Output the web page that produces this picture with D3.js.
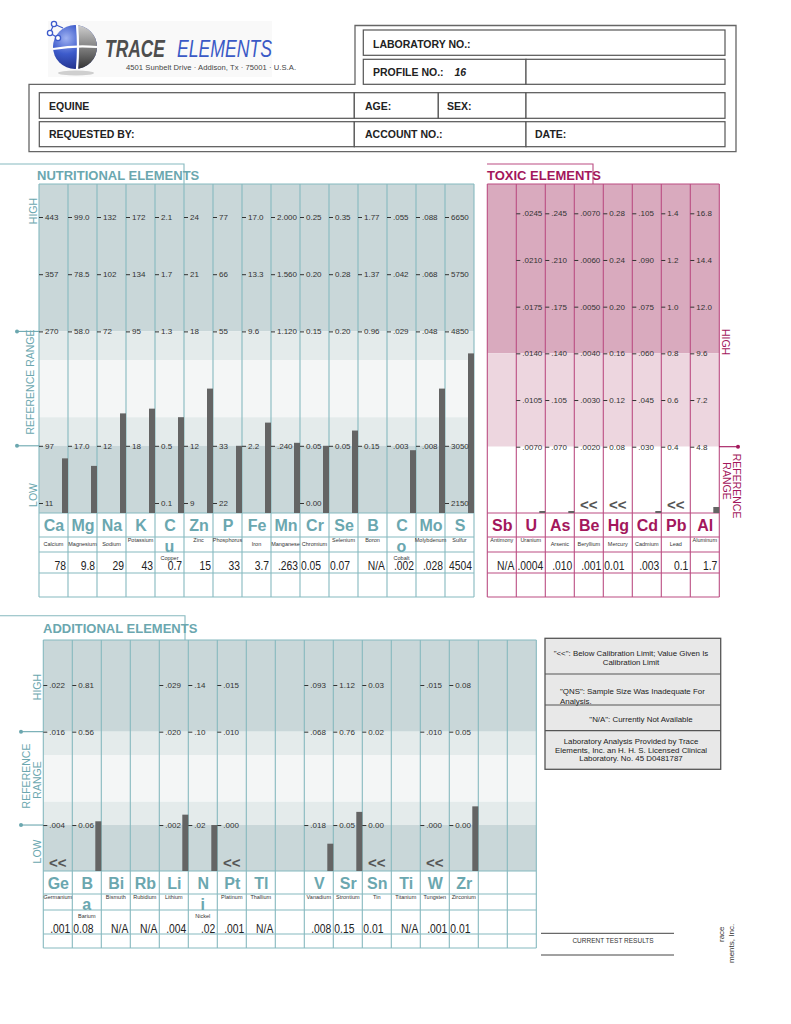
<!DOCTYPE html>
<html>
<head>
<meta charset="utf-8">
<script src="https://cdn.jsdelivr.net/npm/d3@7"></script>
<style>
body{margin:0;background:#fff;}
svg{display:block;font-family:"Liberation Sans",Arial,sans-serif;}
</style>
</head>
<body>
<svg id="chart" width="791" height="1024"></svg>
<script>
// ---- nutritional elements
var nutSymbols = ["Ca","Mg","Na","K","Cu","Zn","P","Fe","Mn","Cr","Se","B","Co","Mo","S"];
var nutNames = ["Calcium","Magnesium","Sodium","Potassium","Copper","Zinc","Phosphorus","Iron","Manganese","Chromium","Selenium","Boron","Cobalt","Molybdenum","Sulfur"];
var nutResults = ["78","9.8","29","43","0.7","15","33","3.7",".263","0.05","0.07","N/A",".002",".028","4504"];
var nutFlags = ["","","","","","","","","","","","","","",""];
var nutHigh = ["443","99.0","132","172","2.1","24","77","17.0","2.000","0.25","0.35","1.77",".055",".088","6650"];
var nutUpper = ["357","78.5","102","134","1.7","21","66","13.3","1.560","0.20","0.28","1.37",".042",".068","5750"];
var nutRefHigh = ["270","58.0","72","95","1.3","18","55","9.6","1.120","0.15","0.20","0.96",".029",".048","4850"];
var nutRefLow = ["97","17.0","12","18","0.5","12","33","2.2",".240","0.05","0.05","0.15",".003",".008","3050"];
var nutLow = ["11","","","","0.1","9","22","","","0.00","","","","","2150"];

// ---- toxic elements
var toxSymbols = ["Sb","U","As","Be","Hg","Cd","Pb","Al"];
var toxNames = ["Antimony","Uranium","Arsenic","Beryllium","Mercury","Cadmium","Lead","Aluminum"];
var toxResults = ["N/A",".0004",".010",".001","0.01",".003","0.1","1.7"];
var toxFlags = ["","","","<<","<<","","<<",""];
var toxRow0 = ["",".0245",".245",".0070","0.28",".105","1.4","16.8"];
var toxRow1 = ["",".0210",".210",".0060","0.24",".090","1.2","14.4"];
var toxRow2 = ["",".0175",".175",".0050","0.20",".075","1.0","12.0"];
var toxRow3 = ["",".0140",".140",".0040","0.16",".060","0.8","9.6"];
var toxRow4 = ["",".0105",".105",".0030","0.12",".045","0.6","7.2"];
var toxRow5 = ["",".0070",".070",".0020","0.08",".030","0.4","4.8"];

// ---- additional elements
var addSymbols = ["Ge","Ba","Bi","Rb","Li","Ni","Pt","Tl","","V","Sr","Sn","Ti","W","Zr","",""];
var addNames = ["Germanium","Barium","Bismuth","Rubidium","Lithium","Nickel","Platinum","Thallium","","Vanadium","Strontium","Tin","Titanium","Tungsten","Zirconium","",""];
var addResults = [".001","0.08","N/A","N/A",".004",".02",".001","N/A","",".008","0.15","0.01","N/A",".001","0.01","",""];
var addFlags = ["<<","","","","","","<<","","","","","<<","","<<","","",""];
var addHigh = [".022","0.81","","",".029",".14",".015","","",".093","1.12","0.03","",".015","0.08","",""];
var addRefHigh = [".016","0.56","","",".020",".10",".010","","",".068","0.76","0.02","",".010","0.05","",""];
var addRefLow = [".004","0.06","","",".002",".02",".000","","",".018","0.05","0.00","",".000","0.00","",""];

var svg = d3.select("#chart");
var TEAL = "#6ba7af", TEAL_LINE = "#86b9bf";
var PINK = "#a3175c", PINK_LINE = "#bb4d82";
var BAR = "#646464";

// symbols too wide for the cell wrap onto a second line, as on the form
var wrapped = ["Cu","Co","Ba","Ni"];
var raised = ["K","Zn","P","Se","B","Mo","S","Sb","U","Al"];

// squeeze a text horizontally (the form uses a narrow face)
function narrow(sel, k) {
  sel.each(function() {
    var w = this.getComputedTextLength();
    if (w > 0) d3.select(this).attr("textLength", w * k).attr("lengthAdjust", "spacingAndGlyphs");
  });
}

function drawPanel(p) {
  var g = svg.append("g");
  var n = p.symbols.length;
  var x = d3.scaleBand().domain(d3.range(n)).range([p.x0, p.x0 + n * p.colW]);
  var left = p.x0, right = p.x0 + n * p.colW;

  // background bands
  g.selectAll("rect.band").data(p.bands).join("rect")
    .attr("x", left).attr("width", right - left)
    .attr("y", function(d) { return d[0]; })
    .attr("height", function(d) { return d[1] - d[0]; })
    .attr("fill", function(d) { return d[2]; });

  // grid
  g.selectAll("line.v").data(d3.range(n + 1)).join("line")
    .attr("x1", function(i) { return p.x0 + i * p.colW; })
    .attr("x2", function(i) { return p.x0 + i * p.colW; })
    .attr("y1", p.top).attr("y2", p.rows[p.rows.length - 1])
    .attr("stroke", p.lineColor).attr("stroke-width", 1.1);
  g.selectAll("line.h").data([p.top].concat(p.rows)).join("line")
    .attr("x1", left).attr("x2", right)
    .attr("y1", function(d) { return d; }).attr("y2", function(d) { return d; })
    .attr("stroke", p.lineColor).attr("stroke-width", 1.1);

  // bars
  var bars = d3.range(n).filter(function(i) {
    return p.results[i] !== "" && !isNaN(+p.results[i]) && p.flags[i] !== "<<" && p.scale(i);
  });
  function barTop(i) {
    var y = p.scale(i)(+p.results[i]);
    return Math.max(p.top, Math.min(p.bottom - 2, y));
  }
  g.selectAll("rect.bar").data(bars).join("rect")
    .attr("fill", BAR)
    .attr("x", function(i) { return x(i) + p.colW - 6; })
    .attr("width", 6)
    .attr("y", barTop)
    .attr("height", function(i) { return p.bottom - barTop(i); });

  // tick labels per column
  d3.range(n).forEach(function(i) {
    var rows = p.ticks.filter(function(t) { return t.labels[i] !== ""; });
    if (!rows.length) return;
    var lookup = {};
    rows.forEach(function(t) { lookup[t.row] = t.labels[i]; });
    var ax = g.append("g")
      .attr("transform", "translate(" + x(i) + ",0)")
      .call(d3.axisRight(p.rowY)
        .tickValues(rows.map(function(t) { return t.row; }))
        .tickFormat(function(r) { return lookup[r]; })
        .tickSizeInner(4).tickSizeOuter(0).tickPadding(2));
    ax.select(".domain").remove();
    ax.selectAll("line").attr("stroke", "#333");
    ax.selectAll("text").attr("fill", "#333").attr("font-size", "8px")
      .attr("font-family", "Liberation Sans, Arial, sans-serif");
  });

  // calibration flags
  g.selectAll("text.flag").data(d3.range(n).filter(function(i) { return p.flags[i] !== ""; })).join("text")
    .attr("x", function(i) { return x(i) + p.colW / 2; })
    .attr("y", p.bottom - 3)
    .attr("text-anchor", "middle").attr("font-size", "15px").attr("font-weight", "bold")
    .attr("fill", "#555").text(function(i) { return p.flags[i]; });

  // symbols
  g.selectAll("text.sym").data(d3.range(n)).join("text")
    .attr("x", function(i) { return x(i) + p.colW / 2 + 0.5; })
    .attr("y", p.symY)
    .attr("text-anchor", "middle").attr("font-size", "16px").attr("font-weight", "bold")
    .attr("fill", p.textColor)
    .text(function(i) { var s = p.symbols[i]; return wrapped.indexOf(s) >= 0 ? s[0] : s; });
  g.selectAll("text.sym2").data(d3.range(n).filter(function(i) { return wrapped.indexOf(p.symbols[i]) >= 0; })).join("text")
    .attr("x", function(i) { return x(i) + p.colW / 2; })
    .attr("y", p.symY + 21)
    .attr("text-anchor", "middle").attr("font-size", "16px").attr("font-weight", "bold")
    .attr("fill", p.textColor)
    .text(function(i) { return p.symbols[i].slice(1); });

  // names
  g.selectAll("text.name").data(d3.range(n)).join("text")
    .attr("x", function(i) { return x(i) + p.colW / 2; })
    .attr("y", function(i) {
      var s = p.symbols[i];
      if (wrapped.indexOf(s) >= 0) return p.symY + 29;
      return raised.indexOf(s) >= 0 ? p.nameY - 4 : p.nameY;
    })
    .attr("text-anchor", "middle").attr("font-size", "5.5px").attr("fill", "#333")
    .text(function(i) { return p.names[i]; });

  // results
  g.selectAll("text.res").data(d3.range(n)).join("text")
    .attr("x", function(i) {
      return /^0\.\d\d$/.test(p.results[i]) ? x(i) + 1 : x(i) + p.colW - 2;
    })
    .attr("y", p.resY)
    .attr("text-anchor", function(i) { return /^0\.\d\d$/.test(p.results[i]) ? "start" : "end"; })
    .attr("font-size", "12px").attr("fill", "#222")
    .text(function(i) { return p.results[i]; })
    .call(narrow, 0.86);
}

function num(s) { return s === "" ? null : +s; }

// ---- nutritional panel
var nutRowY = d3.scaleLinear().domain([0, 5]).range([217, 503]);
var nStep = nutRowY(1) - nutRowY(0);
drawPanel({
  x0: 39, colW: 29, top: 184, bottom: 513,
  rows: [513, 537, 552, 573, 597],
  symbols: nutSymbols, names: nutNames, results: nutResults, flags: nutFlags,
  rowY: nutRowY,
  ticks: [{row: 0, labels: nutHigh}, {row: 1, labels: nutUpper}, {row: 2, labels: nutRefHigh},
          {row: 4, labels: nutRefLow}, {row: 5, labels: nutLow}],
  scale: function(i) {
    return d3.scaleLinear().domain([num(nutRefLow[i]), num(nutRefHigh[i])]).range([nutRowY(4), nutRowY(2)]);
  },
  bands: [[184, nutRowY(2), "#c9d7d9"], [nutRowY(2), nutRowY(2) + nStep / 2, "#e4ebeb"],
          [nutRowY(2) + nStep / 2, nutRowY(4) - nStep / 2, "#f4f6f6"],
          [nutRowY(4) - nStep / 2, nutRowY(4), "#e4ebeb"], [nutRowY(4), 513, "#c9d7d9"]],
  lineColor: TEAL_LINE, textColor: TEAL,
  symY: 531, nameY: 546, resY: 570
});

// ---- toxic panel
var toxRowY = d3.scaleLinear().domain([0, 5]).range([213.3, 446.7]);
drawPanel({
  x0: 487.3, colW: 29, top: 184, bottom: 513,
  rows: [513, 537, 552, 573, 597],
  symbols: toxSymbols, names: toxNames, results: toxResults, flags: toxFlags,
  rowY: toxRowY,
  ticks: [{row: 0, labels: toxRow0}, {row: 1, labels: toxRow1}, {row: 2, labels: toxRow2},
          {row: 3, labels: toxRow3}, {row: 4, labels: toxRow4}, {row: 5, labels: toxRow5}],
  scale: function(i) {
    if (toxRow0[i] === "") return null;
    return d3.scaleLinear().domain([num(toxRow5[i]), num(toxRow0[i])]).range([toxRowY(5), toxRowY(0)]);
  },
  bands: [[184, toxRowY(3), "#d9aabe"], [toxRowY(3), toxRowY(5), "#edd6df"], [toxRowY(5), 513, "#ffffff"]],
  lineColor: PINK_LINE, textColor: PINK,
  symY: 531, nameY: 546, resY: 570
});

// ---- additional panel
var addRowY = d3.scaleLinear().domain([0, 4]).range([685, 871.7]);
drawPanel({
  x0: 43.3, colW: 29, top: 640, bottom: 871,
  rows: [871, 894, 910, 934, 948],
  symbols: addSymbols, names: addNames, results: addResults, flags: addFlags,
  rowY: addRowY,
  ticks: [{row: 0, labels: addHigh}, {row: 1, labels: addRefHigh}, {row: 3, labels: addRefLow}],
  scale: function(i) {
    if (addRefHigh[i] === "") return null;
    return d3.scaleLinear().domain([num(addRefLow[i]), num(addRefHigh[i])]).range([addRowY(3), addRowY(1)]);
  },
  bands: [[640, addRowY(1), "#c9d7d9"], [addRowY(1), addRowY(1.5), "#e4ebeb"],
          [addRowY(1.5), addRowY(2.5), "#f4f6f6"], [addRowY(2.5), addRowY(3), "#e4ebeb"],
          [addRowY(3), 871, "#c9d7d9"]],
  lineColor: TEAL_LINE, textColor: TEAL,
  symY: 889, nameY: 899, resY: 932.5
});

// ---- section titles and brackets
function bracket(x1, x2, y, yEnd, color) {
  svg.append("path")
    .attr("d", "M" + x1 + "," + y + "H" + x2 + "V" + yEnd)
    .attr("fill", "none").attr("stroke", color).attr("stroke-width", 1.1);
}
bracket(0, 184, 164, 184, TEAL_LINE);
bracket(487, 593, 164, 184, PINK_LINE);
bracket(0, 185, 615.7, 640, TEAL_LINE);

function title(x, y, t, color) {
  svg.append("text").attr("x", x).attr("y", y).attr("font-size", "13px").attr("font-weight", "bold")
    .attr("fill", color).text(t);
}
title(37, 180, "NUTRITIONAL ELEMENTS", TEAL);
title(487, 180, "TOXIC ELEMENTS", PINK);
title(43, 633, "ADDITIONAL ELEMENTS", TEAL);

function vlabel(cx, cy, t, color, angle) {
  svg.append("text").attr("transform", "translate(" + cx + "," + cy + ") rotate(" + angle + ")")
    .attr("text-anchor", "middle").attr("dy", "0.35em").attr("font-size", "10.5px")
    .attr("fill", color).text(t);
}
function marker(x1, x2, y, dotX, color) {
  svg.append("line").attr("x1", x1).attr("x2", x2).attr("y1", y).attr("y2", y)
    .attr("stroke", color).attr("stroke-width", 1.1);
  svg.append("circle").attr("cx", dotX).attr("cy", y).attr("r", 2).attr("fill", color);
}

vlabel(33.5, 211, "HIGH", TEAL, -90);
vlabel(30, 382, "REFERENCE RANGE", TEAL, -90);
vlabel(33.5, 495, "LOW", TEAL, -90);
marker(17, 39, nutRowY(2), 17, TEAL);
marker(17, 39, nutRowY(4), 17, TEAL);

vlabel(37.5, 687, "HIGH", TEAL, -90);
vlabel(26.5, 776, "REFERENCE", TEAL, -90);
vlabel(37.5, 780, "RANGE", TEAL, -90);
vlabel(37.5, 851.5, "LOW", TEAL, -90);
marker(21, 43, addRowY(1), 21, TEAL);
marker(21, 43, addRowY(3), 21, TEAL);

vlabel(726, 342, "HIGH", PINK, 90);
vlabel(737, 486, "REFERENCE", PINK, 90);
vlabel(726.5, 481, "RANGE", PINK, 90);
marker(719, 738, toxRowY(5), 738, PINK);

// ---- header
var defs = svg.append("defs");
var rg = defs.append("radialGradient").attr("id", "sph").attr("cx", "30%").attr("cy", "30%").attr("r", "80%");
rg.append("stop").attr("offset", "0%").attr("stop-color", "#9fb2f2");
rg.append("stop").attr("offset", "45%").attr("stop-color", "#3d5bcb");
rg.append("stop").attr("offset", "100%").attr("stop-color", "#1c2a80");
var lg = defs.append("linearGradient").attr("id", "sphR").attr("x1", "0").attr("y1", "0").attr("x2", "0").attr("y2", "1");
lg.append("stop").attr("offset", "0%").attr("stop-color", "#e0e0e0");
lg.append("stop").attr("offset", "45%").attr("stop-color", "#8a8a8a");
lg.append("stop").attr("offset", "100%").attr("stop-color", "#1e1e1e");
defs.append("clipPath").attr("id", "sphClip").append("circle").attr("cx", 75).attr("cy", 47).attr("r", 22);

svg.append("rect").attr("x", 48).attr("y", 21).attr("width", 224).attr("height", 56).attr("fill", "#f9f9f9");
svg.append("ellipse").attr("cx", 76).attr("cy", 73).attr("rx", 18).attr("ry", 2.5).attr("fill", "#cfcfcf");
var logo = svg.append("g");
logo.append("circle").attr("cx", 75).attr("cy", 47).attr("r", 22).attr("fill", "url(#sph)");
logo.append("path").attr("clip-path", "url(#sphClip)")
  .attr("d", "M78,20 L100,20 L100,75 L78,75 Q79,60 78,48 Z").attr("fill", "url(#sphR)");
logo.append("path").attr("d", "M77,25 Q79,47 77,69").attr("stroke", "#fff").attr("stroke-width", 2.2).attr("fill", "none");
logo.append("path").attr("d", "M53,49 Q75,45 97,47").attr("stroke", "#fff").attr("stroke-width", 2.2).attr("fill", "none");
logo.append("path").attr("d", "M54,24 L50,33 L58,38 M54,24 L63,28").attr("stroke", "#3d5bcb").attr("stroke-width", 1.2).attr("fill", "none");
[[54, 24], [50, 33], [58, 38]].forEach(function(c) {
  logo.append("circle").attr("cx", c[0]).attr("cy", c[1]).attr("r", 2.6).attr("fill", "#fff")
    .attr("stroke", "#3d5bcb").attr("stroke-width", 1.3);
});
svg.append("text").attr("x", 105).attr("y", 57).attr("font-size", "23px").attr("font-weight", "bold")
  .attr("font-style", "italic").attr("fill", "#4e4e4e").attr("textLength", 60)
  .attr("lengthAdjust", "spacingAndGlyphs").text("TRACE");
svg.append("text").attr("x", 177).attr("y", 57).attr("font-size", "23px")
  .attr("font-style", "italic").attr("fill", "#3a59c6").attr("textLength", 95)
  .attr("lengthAdjust", "spacingAndGlyphs").text("ELEMENTS");
svg.append("text").attr("x", 126).attr("y", 70).attr("font-size", "7.6px").attr("fill", "#444")
  .attr("textLength", 170).text("4501 Sunbelt Drive \u00b7 Addison, Tx \u00b7 75001 \u00b7 U.S.A.");

svg.append("path").attr("d", "M29,84.3H355V25.5H736V151.7H29Z")
  .attr("fill", "none").attr("stroke", "#666").attr("stroke-width", 1.3);

var boxes = [[363.3, 30, 725, 55.3], [363.3, 59.3, 526, 84.3], [526, 59.3, 725, 84.3],
             [39.3, 92.7, 354.3, 118.3], [354.3, 92.7, 438.3, 118.3], [438.3, 92.7, 526, 118.3], [526, 92.7, 725, 118.3],
             [39.3, 121.7, 354.3, 146.7], [354.3, 121.7, 526, 146.7], [526, 121.7, 725, 146.7]];
svg.selectAll("rect.box").data(boxes).join("rect")
  .attr("x", function(d) { return d[0]; }).attr("y", function(d) { return d[1]; })
  .attr("width", function(d) { return d[2] - d[0]; }).attr("height", function(d) { return d[3] - d[1]; })
  .attr("fill", "#fff").attr("stroke", "#555").attr("stroke-width", 1.2);

var headText = [[373, 48, "LABORATORY NO.:"], [373, 76, "PROFILE NO.:"], [49, 109.5, "EQUINE"],
                [365, 109.5, "AGE:"], [447, 109.5, "SEX:"], [49, 138, "REQUESTED BY:"],
                [365, 138, "ACCOUNT NO.:"], [535, 138, "DATE:"]];
svg.selectAll("text.head").data(headText).join("text")
  .attr("x", function(d) { return d[0]; }).attr("y", function(d) { return d[1]; })
  .attr("font-size", "10.5px").attr("font-weight", "bold").attr("fill", "#222")
  .text(function(d) { return d[2]; });
svg.append("text").attr("x", 454.5).attr("y", 76).attr("font-size", "10.5px").attr("font-weight", "bold")
  .attr("font-style", "italic").attr("fill", "#222").text("16");

// ---- legend box
svg.append("rect").attr("x", 545).attr("y", 638.3).attr("width", 175.7).attr("height", 131)
  .attr("fill", "#e8e8e8").attr("stroke", "#555").attr("stroke-width", 1.3);
[674, 705, 730.7].forEach(function(y) {
  svg.append("line").attr("x1", 545).attr("x2", 720.7).attr("y1", y).attr("y2", y)
    .attr("stroke", "#555").attr("stroke-width", 1.2);
});
var legendText = [
  [631, 656, "middle", "\"<<\": Below Calibration Limit; Value Given Is"],
  [631, 665, "middle", "Calibration Limit"],
  [560, 694, "start", "\"QNS\": Sample Size Was Inadequate For"],
  [560, 704, "start", "Analysis."],
  [641, 722, "middle", "\"N/A\": Currently Not Available"],
  [631, 744, "middle", "Laboratory Analysis Provided by Trace"],
  [631, 752.5, "middle", "Elements, Inc.  an H. H. S. Licensed Clinical"],
  [631, 761, "middle", "Laboratory. No. 45 D0481787"]
];
svg.selectAll("text.leg").data(legendText).join("text")
  .attr("x", function(d) { return d[0]; }).attr("y", function(d) { return d[1]; })
  .attr("text-anchor", function(d) { return d[2]; })
  .attr("font-size", "7.9px").attr("fill", "#222")
  .text(function(d) { return d[3]; });

// ---- footer
[933.3, 955].forEach(function(y) {
  svg.append("line").attr("x1", 541).attr("x2", 674).attr("y1", y).attr("y2", y)
    .attr("stroke", "#444").attr("stroke-width", 1);
});
svg.append("text").attr("x", 613).attr("y", 943).attr("text-anchor", "middle")
  .attr("font-size", "6.5px").attr("fill", "#333").text("CURRENT TEST RESULTS");
svg.append("text").attr("transform", "translate(724,942) rotate(-90)")
  .attr("font-size", "8px").attr("fill", "#333").text("race");
svg.append("text").attr("transform", "translate(734,963) rotate(-90)")
  .attr("font-size", "8px").attr("fill", "#333").text("ments, Inc.");
</script>
</body>
</html>
